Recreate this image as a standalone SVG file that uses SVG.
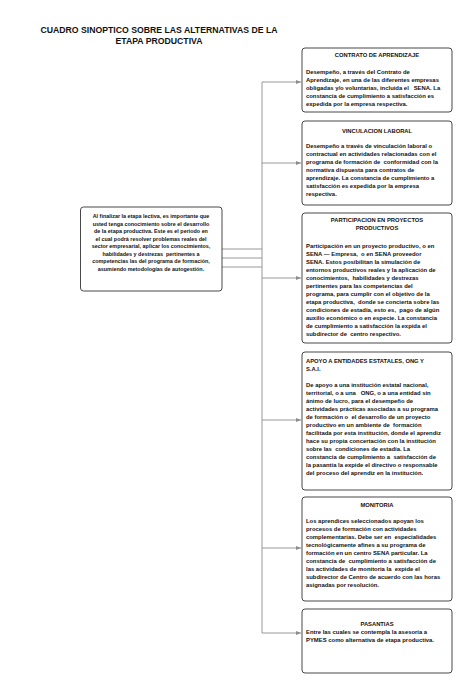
<svg xmlns="http://www.w3.org/2000/svg" width="474" height="684" viewBox="0 0 474 684">
<defs>
<style>
.bg{fill:#ffffff}
.box{fill:#ffffff;stroke:#333333;stroke-width:0.9}
.t{font-family:"Liberation Sans",Arial,sans-serif;font-weight:bold;fill:#111111;white-space:pre}
.title{font-size:8.7px}
.h{font-size:5.8px}
.b{font-size:5.9px}
.l{font-size:5.4px}
.c{text-anchor:middle}
.con{fill:none;stroke:#8c8c8c;stroke-width:0.9}
</style>
<marker id="ah" markerWidth="6" markerHeight="6" refX="5" refY="3" orient="auto" markerUnits="userSpaceOnUse">
<path d="M0,1 L5,3 L0,5 Z" fill="#8c8c8c"/>
</marker>
</defs>
<rect class="bg" x="0" y="0" width="474" height="684"/>

<g id="title">
<text class="t title c" x="159" y="33">CUADRO SINOPTICO SOBRE LAS ALTERNATIVAS DE LA</text>
<text class="t title c" x="159" y="44">ETAPA PRODUCTIVA</text>
</g>

<g id="connectors">
<path class="con" d="M222,249 H262"/>
<path class="con" d="M222,258 H262"/>
<path class="con" d="M222,267 H262"/>
<path class="con" d="M262,82 V633"/>
<path class="con" d="M262,82 H301" marker-end="url(#ah)"/>
<path class="con" d="M262,163 H301" marker-end="url(#ah)"/>
<path class="con" d="M262,278 H301" marker-end="url(#ah)"/>
<path class="con" d="M262,420 H301" marker-end="url(#ah)"/>
<path class="con" d="M262,548 H301" marker-end="url(#ah)"/>
<path class="con" d="M262,633 H301" marker-end="url(#ah)"/>
</g>

<g id="intro">
<rect class="box" x="80.5" y="207" width="141.5" height="84" rx="3"/>
<text class="t l c" x="151" y="218">Al finalizar la etapa lectiva, es importante que</text>
<text class="t l c" x="151" y="225.5">usted tenga conocimiento sobre el desarrollo</text>
<text class="t l c" x="151" y="233">de la etapa productiva. Este es el periodo en</text>
<text class="t l c" x="151" y="240.5">el cual podrá resolver problemas reales del</text>
<text class="t l c" x="151" y="248">sector empresarial, aplicar los conocimientos,</text>
<text class="t l c" x="151" y="255.5">habilidades y destrezas  pertinentes a</text>
<text class="t l c" x="151" y="263">competencias las del programa de formación,</text>
<text class="t l c" x="151" y="270.5">asumiendo metodologías de autogestión.</text>
</g>

<g id="contrato">
<rect class="box" x="302" y="48" width="150" height="64" rx="3"/>
<text class="t h c" x="377" y="57">CONTRATO DE APRENDIZAJE</text>
<text class="t b" x="306" y="74">Desempeño, a través del Contrato de</text>
<text class="t b" x="306" y="82">Aprendizaje, en una de las diferentes empresas</text>
<text class="t b" x="306" y="90">obligadas y/o voluntarias, incluida el   SENA. La</text>
<text class="t b" x="306" y="98">constancia de cumplimiento a satisfacción es</text>
<text class="t b" x="306" y="106">expedida por la empresa respectiva.</text>
</g>

<g id="vinculacion">
<rect class="box" x="302" y="121" width="150" height="84" rx="3"/>
<text class="t h c" x="377" y="133">VINCULACION LABORAL</text>
<text class="t b" x="306" y="148">Desempeño a través de vinculación laboral o</text>
<text class="t b" x="306" y="156">contractual en actividades relacionadas con el</text>
<text class="t b" x="306" y="164">programa de formación de  conformidad con la</text>
<text class="t b" x="306" y="172">normativa dispuesta para contratos de</text>
<text class="t b" x="306" y="180">aprendizaje. La constancia de cumplimiento a</text>
<text class="t b" x="306" y="188">satisfacción es expedida por la empresa</text>
<text class="t b" x="306" y="196">respectiva.</text>
</g>

<g id="participacion">
<rect class="box" x="302" y="213" width="150" height="130" rx="3"/>
<text class="t h c" x="377" y="222">PARTICIPACION EN PROYECTOS</text>
<text class="t h c" x="377" y="230">PRODUCTIVOS</text>
<text class="t b" x="306" y="248">Participación en un proyecto productivo, o en</text>
<text class="t b" x="306" y="256">SENA — Empresa,  o en SENA proveedor</text>
<text class="t b" x="306" y="264">SENA. Estos posibilitan la simulación de</text>
<text class="t b" x="306" y="272">entornos productivos reales y la aplicación de</text>
<text class="t b" x="306" y="280">conocimientos,  habilidades y destrezas</text>
<text class="t b" x="306" y="288">pertinentes para las competencias del</text>
<text class="t b" x="306" y="296">programa, para cumplir con el objetivo de la</text>
<text class="t b" x="306" y="304">etapa productiva,  donde se concierta sobre las</text>
<text class="t b" x="306" y="312">condiciones de estadía, esto es,  pago de algún</text>
<text class="t b" x="306" y="320">auxilio económico o en especie. La constancia</text>
<text class="t b" x="306" y="328">de cumplimiento a satisfacción la expida el</text>
<text class="t b" x="306" y="336">subdirector de  centro respectivo.</text>
</g>

<g id="apoyo">
<rect class="box" x="302" y="352" width="150" height="138" rx="3"/>
<text class="t h" x="306" y="363">APOYO A ENTIDADES ESTATALES, ONG Y</text>
<text class="t h" x="306" y="371">S.A.I.</text>
<text class="t b" x="306" y="387">De apoyo a una institución estatal nacional,</text>
<text class="t b" x="306" y="395">territorial, o a una   ONG, o a una entidad sin</text>
<text class="t b" x="306" y="403">ánimo de lucro, para el desempeño de</text>
<text class="t b" x="306" y="411">actividades prácticas asociadas a su programa</text>
<text class="t b" x="306" y="419">de formación o  el desarrollo de un proyecto</text>
<text class="t b" x="306" y="427">productivo en un ambiente de  formación</text>
<text class="t b" x="306" y="435">facilitada por esta institución, donde el aprendiz</text>
<text class="t b" x="306" y="443">hace su propia concertación con la institución</text>
<text class="t b" x="306" y="451">sobre las  condiciones de estadía. La</text>
<text class="t b" x="306" y="459">constancia de cumplimiento a  satisfacción de</text>
<text class="t b" x="306" y="467">la pasantía la expide el directivo o responsable</text>
<text class="t b" x="306" y="475">del proceso del aprendiz en la institución.</text>
</g>

<g id="monitoria">
<rect class="box" x="302" y="497" width="150" height="104" rx="3"/>
<text class="t h c" x="377" y="507">MONITORIA</text>
<text class="t b" x="306" y="523">Los aprendices seleccionados apoyan los</text>
<text class="t b" x="306" y="531">procesos de formación con actividades</text>
<text class="t b" x="306" y="539">complementarias. Debe ser en  especialidades</text>
<text class="t b" x="306" y="547">tecnológicamente afines a su programa de</text>
<text class="t b" x="306" y="555">formación en un centro SENA particular. La</text>
<text class="t b" x="306" y="563">constancia de  cumplimiento a satisfacción de</text>
<text class="t b" x="306" y="571">las actividades de monitoria la  expide el</text>
<text class="t b" x="306" y="579">subdirector de Centro de acuerdo con las horas</text>
<text class="t b" x="306" y="587">asignadas por resolución.</text>
</g>

<g id="pasantias">
<rect class="box" x="302" y="609" width="150" height="64" rx="3"/>
<text class="t h c" x="377" y="626">PASANTIAS</text>
<text class="t b" x="306" y="634">Entre las cuales se contempla la asesoría a</text>
<text class="t b" x="306" y="642">PYMES como alternativa de etapa productiva.</text>
</g>
</svg>
